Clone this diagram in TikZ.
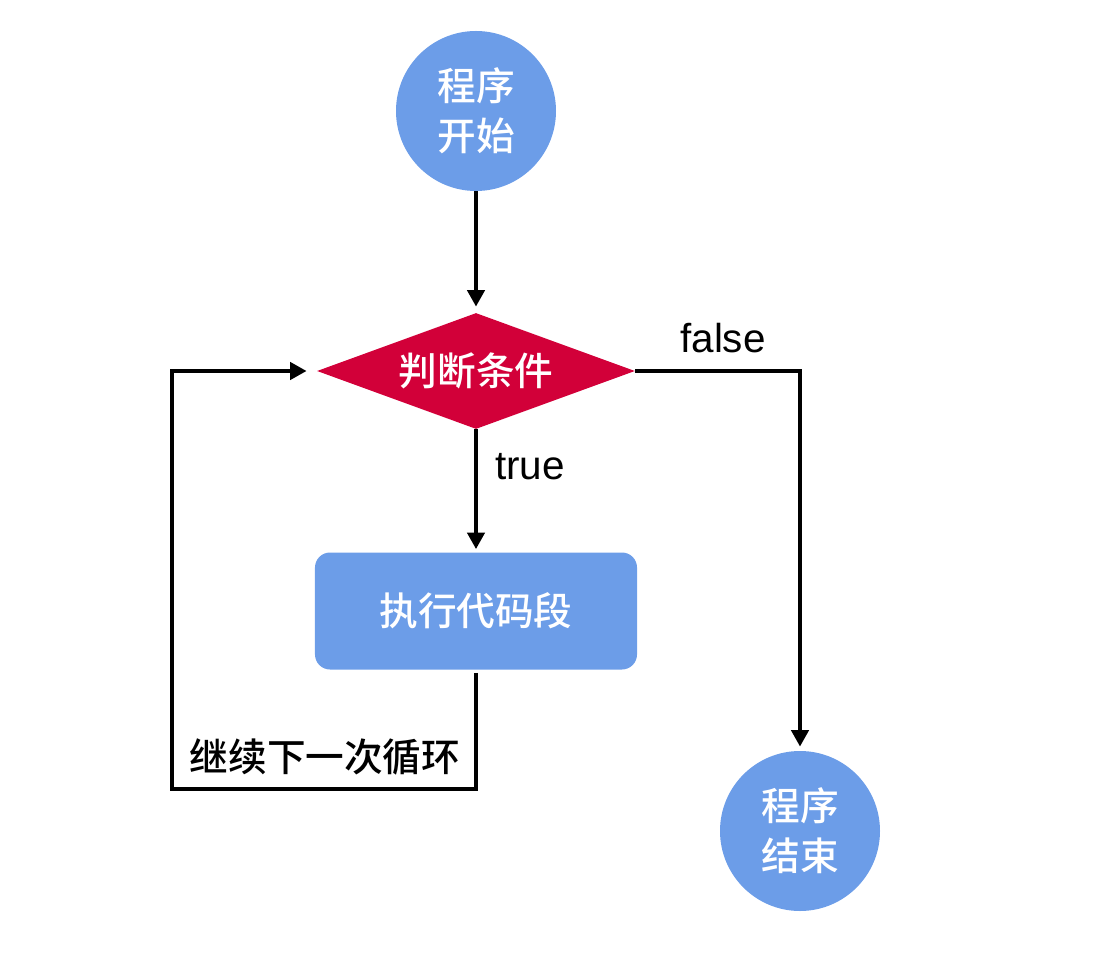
\documentclass[tikz,border=0pt]{standalone}
\usepackage{fontspec}
\setmainfont{Liberation Sans}
\newfontfamily\cjk[UprightFont=* Medium]{Noto Sans CJK SC}
\usepackage{tikz}
\usetikzlibrary{positioning,shapes.geometric,arrows.meta}

\definecolor{flowblue}{HTML}{6C9DE8}
\definecolor{flowred}{HTML}{D20039}

\begin{document}
\begin{tikzpicture}[node distance=2cm,on grid,
    every node/.style={font=\cjk\fontsize{22}{28.5}\selectfont},
    terminal/.style={circle,fill=flowblue,text=white,minimum size=3.2cm,inner sep=0pt,align=center},
    decision/.style={diamond,fill=flowred,text=white,aspect=2.74,minimum width=6.36cm,minimum height=2.32cm,inner sep=0pt},
    process/.style={rectangle,rounded corners=0.3cm,fill=flowblue,text=white,minimum width=6.44cm,minimum height=2.34cm},
    flow/.style={line width=2.3pt,-{Triangle[length=0.33cm,width=0.34cm]}},
    lbl/.style={font=\fontsize{23}{28}\selectfont}]
\useasboundingbox (-9.52,2.22) rectangle (12.6,-16.9);

\node[terminal] (start) {程序\\开始};
\node[decision] (cond) [below=5.2cm of start] {判断条件};
\node[process]  (task) [below=4.8cm of cond] {执行代码段};
\node[terminal] (stop) [below right=4.4cm and 6.48cm of task] {程序\\结束};

\coordinate (loopbl) at (-6.08,-13.56);

\draw[flow,shorten >=0.12cm] (start) -- (cond);
\draw[flow,shorten >=0.08cm] (cond.east) -| (stop.north);
\draw[flow,shorten >=0.06cm] (cond) -- (task);
\draw[flow,shorten >=0.2cm] ([yshift=-0.06cm]task.south) -- (task.south |- loopbl) -- (loopbl) |- (cond.west);

\node[lbl] (falselbl) at (4.94,-4.54) {false};
\node[lbl] (truelbl) at (1.08,-7.12) {true};
\node (looplbl) at (-3.02,-12.92) {继续下一次循环};
\end{tikzpicture}
\end{document}
